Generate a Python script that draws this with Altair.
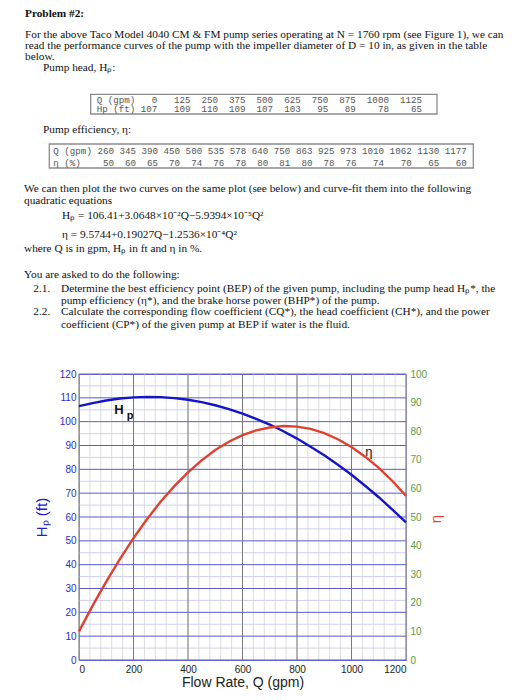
import altair as alt
import pandas as pd

# ---------------- data ----------------
flow_q = [0, 50, 100, 150, 200, 250, 300, 350, 400, 450, 500, 550, 600,
          650, 700, 750, 800, 850, 900, 950, 1000, 1050, 1100, 1150, 1200]
head_hp = [106.5, 107.8, 108.9, 109.7, 110.2, 110.4, 110.3, 109.9, 109.2, 108.2,
           106.9, 105.3, 103.4, 101.2, 98.8, 96.0, 92.9, 89.5, 85.9, 81.9,
           77.7, 73.1, 68.3, 63.1, 57.7]
eff_eta = [10.0, 19.0, 27.4, 35.3, 42.6, 49.3, 55.4, 60.8, 65.6, 69.8,
           73.4, 76.3, 78.6, 80.3, 81.3, 81.8, 81.6, 80.8, 79.3, 77.2,
           74.5, 71.1, 67.2, 62.6, 57.4]

table_head_q = [0, 125, 250, 375, 500, 625, 750, 875, 1000, 1125]
table_head_hp = [107, 109, 110, 109, 107, 103, 95, 89, 78, 65]
table_eff_q = [260, 345, 390, 450, 500, 535, 578, 640, 750, 863, 925, 973, 1010, 1062, 1130, 1177]
table_eff_eta = [50, 60, 65, 70, 74, 76, 78, 80, 81, 80, 78, 76, 74, 70, 65, 60]

x_ticks = [0, 200, 400, 600, 800, 1000, 1200]
x_minor = [v for v in range(0, 1201, 40)]
hp_ticks = [v for v in range(0, 121, 10)]
hp_minor = [v for v in range(5, 121, 10)]
eta_ticks = [v for v in range(0, 101, 10)]

text_lines = {
    "title": "Problem #2:",
    "l1": "For the above Taco Model 4040 CM & FM pump series operating at N = 1760 rpm (see Figure 1), we can",
    "l2": "read the performance curves of the pump with the impeller diameter of D = 10 in, as given in the table",
    "l3": "below.",
    "l4": "Pump head, H\u209a:",
    "l5": "Pump efficiency, \u03b7:",
    "l6": "We can then plot the two curves on the same plot (see below) and curve-fit them into the following",
    "l7": "quadratic equations",
    "e1": "H\u209a = 106.41+3.0648\u00d710\u207b\u00b2Q\u22125.9394\u00d710\u207b\u2075Q\u00b2",
    "e2": "\u03b7 = 9.5744+0.19027Q\u22121.2536\u00d710\u207b\u2074Q\u00b2",
    "l8": "where Q is in gpm, H\u209a in ft and \u03b7 in %.",
    "l9": "You are asked to do the following:",
    "n1": "2.1.",
    "l10": "Determine the best efficiency point (BEP) of the given pump, including the pump head H\u209a*, the",
    "l11": "pump efficiency (\u03b7*), and the brake horse power (BHP*) of the pump.",
    "n2": "2.2.",
    "l12": "Calculate the corresponding flow coefficient (CQ*), the head coefficient (CH*), and the power",
    "l13": "coefficient (CP*) of the given pump at BEP if water is the fluid.",
}

# ---------------- layout ----------------
OX, OY = 79, 374          # page position of plot origin
W, H = 327, 286
NB = "\u00a0"

def row(label, vals, widths):
    s = label + "".join(str(v).rjust(w) for v, w in zip(vals, widths))
    return s.replace(" ", NB)

w1 = [4, 6, 5, 5, 5, 5, 5, 5, 6, 6]
w2 = [4 if v < 1000 else 5 for v in table_eff_q]
tab_rows = [
    row("Q (gpm)", table_head_q, w1),
    row("Hp (ft)", table_head_hp, w1),
    row("Q (gpm)", table_eff_q, w2),
    row("\u03b7 (%)  ", table_eff_eta, w2),
]

SERIF = "Liberation Serif"
SANS = "Liberation Sans"
MONO = "Liberation Mono"
FS = 11.3

def txt(s, px, py, size=FS, weight="normal", font=SERIF, color="#111111", angle=0, align="left"):
    return alt.Chart(pd.DataFrame({"t": [s]})).mark_text(
        align=align, baseline="middle", font=font, fontSize=size,
        fontWeight=weight, color=color, angle=angle
    ).encode(x=alt.value(px - OX), y=alt.value(py - OY), text="t:N")

def box(x1, y1, x2, y2):
    return alt.Chart(pd.DataFrame({"a": [0]})).mark_rect(
        fill="white", stroke="#8c8c8c", strokeWidth=1.3
    ).encode(x=alt.value(x1 - OX), x2=alt.value(x2 - OX),
             y=alt.value(y1 - OY), y2=alt.value(y2 - OY))

texts = [
    txt(text_lines["title"], 25, 14, weight="bold"),
    txt(text_lines["l1"], 25, 34.5),
    txt(text_lines["l2"], 25, 45.5),
    txt(text_lines["l3"], 25, 56.5),
    txt(text_lines["l4"], 43, 67.5),
    box(90.7, 94.3, 437, 114),
    txt(tab_rows[0], 96.7, 99.5, size=9.2, font=MONO, color="#555555"),
    txt(tab_rows[1], 96.7, 109.2, size=9.2, font=MONO, color="#555555"),
    txt(text_lines["l5"], 43, 129.5),
    box(49.3, 144, 473.3, 168),
    txt(tab_rows[2], 53.3, 151.3, size=9.2, font=MONO, color="#555555"),
    txt(tab_rows[3], 53.3, 162.5, size=9.2, font=MONO, color="#555555"),
    txt(text_lines["l6"], 24, 188.5),
    txt(text_lines["l7"], 24, 200.5),
    txt(text_lines["e1"], 62, 216),
    txt(text_lines["e2"], 62, 234.5),
    txt(text_lines["l8"], 24, 248.5),
    txt(text_lines["l9"], 24, 275),
    txt(text_lines["n1"], 33.3, 289),
    txt(text_lines["l10"], 61, 289),
    txt(text_lines["l11"], 61, 300.5),
    txt(text_lines["n2"], 33.3, 312),
    txt(text_lines["l12"], 61, 312),
    txt(text_lines["l13"], 61, 324.5),
    # right-hand axis title (rotated eta), drawn in red like the reference
    txt("\u03b7", 436, 519, size=15, font=SANS, color="#e0443a", angle=270, align="center"),
]

# ---------------- plot ----------------
xscale = alt.Scale(domain=[0, 1200], nice=False, zero=False)
yscale = alt.Scale(domain=[0, 120], nice=False)
escale = alt.Scale(domain=[0, 100], nice=False)

xaxis = alt.Axis(
    values=x_ticks, format="d", title="Flow Rate, Q (gpm)", grid=False, domain=False,
    tickSize=0, labelFont=SANS, labelFontSize=10, labelColor="#222222",
    labelPadding=4, titleFont=SANS, titleFontSize=14, titleFontWeight="normal",
    titleColor="#222222", titlePadding=1)
yaxis = alt.Axis(
    values=hp_ticks, format="d", title="H\u209a (ft)", grid=False, domain=True,
    domainColor="#6a6ad8", tickSize=0, labelFont=SANS, labelFontSize=10,
    labelColor="#2b2bd0", labelPadding=3, titleFont=SANS, titleFontSize=15,
    titleFontWeight="normal", titleColor="#2020d0", titlePadding=10)
eaxis = alt.Axis(
    orient="right", values=eta_ticks, format="d", title=None, grid=False, domain=True,
    domainColor="#6a6ad8", tickSize=0, labelFont=SANS, labelFontSize=10,
    labelColor="#5b9a45", labelPadding=4)

def X(f):
    return alt.X(f, scale=xscale, axis=xaxis)

def Y(f):
    return alt.Y(f, scale=yscale, axis=yaxis)

grid_x_minor = alt.Chart(pd.DataFrame({"Q": x_minor})).mark_rule(
    color="#dcdce4", strokeWidth=1).encode(x=X("Q:Q"))
grid_y_minor = alt.Chart(pd.DataFrame({"Hp": hp_minor})).mark_rule(
    color="#cfcff2", strokeWidth=1).encode(y=Y("Hp:Q"))
grid_y_major = alt.Chart(pd.DataFrame({"Hp": hp_ticks})).mark_rule(
    color="#5a5ad6", strokeWidth=1).encode(y=Y("Hp:Q"))
grid_x_major = alt.Chart(pd.DataFrame({"Q": x_ticks})).mark_rule(
    color="#7a7a7a", strokeWidth=1).encode(x=X("Q:Q"))

df = pd.DataFrame({"Q": flow_q, "Hp": head_hp, "eta": eff_eta})

head_line = alt.Chart(df).mark_line(color="#1414c8", strokeWidth=2.4).encode(
    x=X("Q:Q"), y=Y("Hp:Q"))

ann = pd.DataFrame({"Q": [147, 188, 1064], "Hp": [104.8, 102.4, 87.3],
                    "t": ["H", "p", "\u03b7"], "s": ["b", "s", "e"]})
ann_h = alt.Chart(ann[ann.s == "b"]).mark_text(
    font=SANS, fontSize=13, fontWeight="bold", color="#111111").encode(
    x=X("Q:Q"), y=Y("Hp:Q"), text="t:N")
ann_p = alt.Chart(ann[ann.s == "s"]).mark_text(
    font=SANS, fontSize=11, fontWeight="bold", color="#111111").encode(
    x=X("Q:Q"), y=Y("Hp:Q"), text="t:N")
ann_e = alt.Chart(ann[ann.s == "e"]).mark_text(
    font=SANS, fontSize=13, color="#111111").encode(
    x=X("Q:Q"), y=Y("Hp:Q"), text="t:N")

left = alt.layer(
    grid_x_minor, grid_y_minor, grid_y_major, grid_x_major,
    head_line, ann_h, ann_p, ann_e, *texts
)

eff_line = alt.Chart(df).mark_line(color="#e0402e", strokeWidth=2.4).encode(
    x=X("Q:Q"),
    y=alt.Y("eta:Q", scale=escale, axis=eaxis),
)

chart = alt.layer(left, eff_line).resolve_scale(y="independent").properties(
    width=W, height=H,
    autosize=alt.AutoSizeParams(type="none"),
    padding={"left": OX - 8, "top": OY - 8, "right": 511 - (OX - 8) - W,
             "bottom": 684 - (OY - 8) - H},
    background="white",
).configure_view(stroke="#6a6ad8", strokeWidth=1)

chart.save("out.html", embed_options={"renderer": "svg", "actions": False})
